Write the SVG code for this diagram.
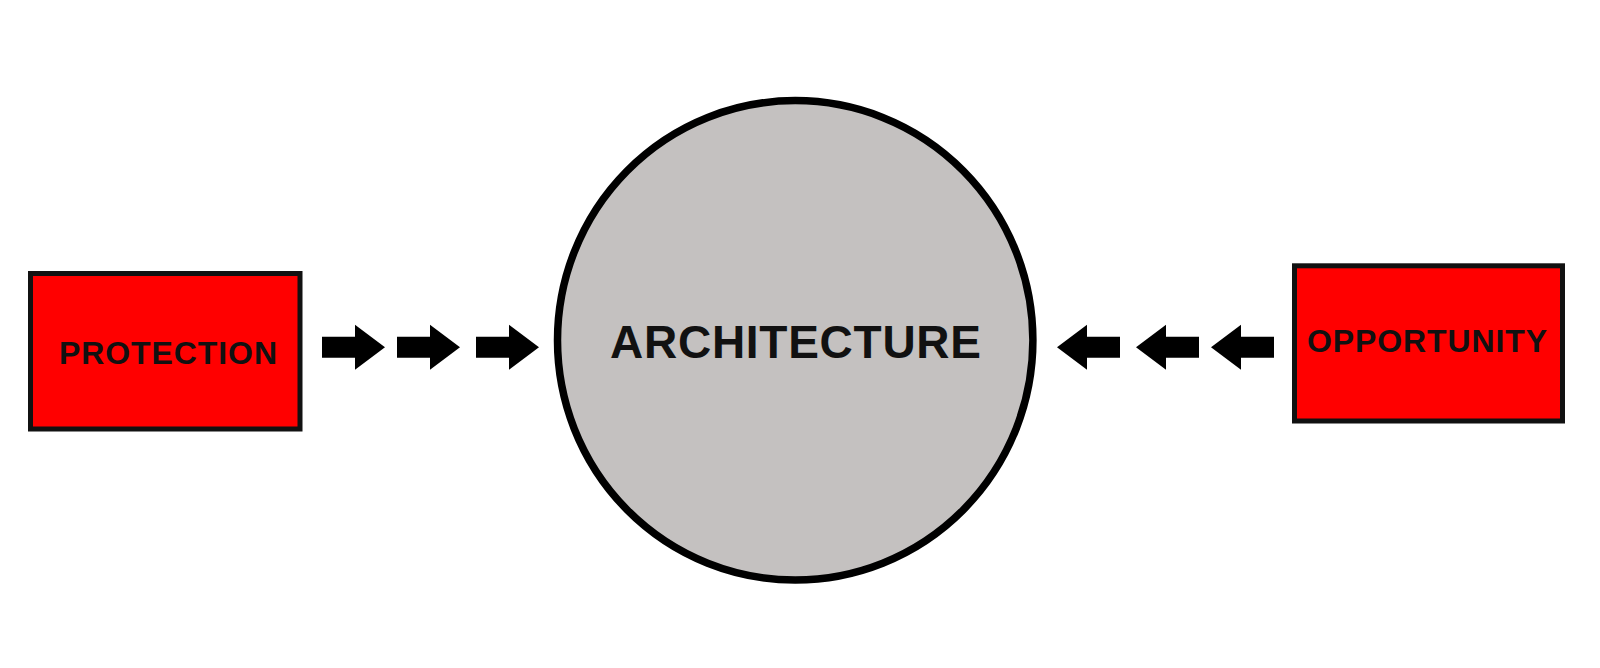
<svg xmlns="http://www.w3.org/2000/svg" width="1600" height="668" viewBox="0 0 1600 668">
<style>
.box{fill:#ff0000;stroke:#111;stroke-width:5}
.lbl{font-family:"Liberation Sans",Arial,sans-serif;font-weight:bold;fill:#111}
.arr{fill:#000}
</style>
<defs>
<path id="ar" d="M0,-10.5 H33 V-22.5 L63,0 L33,22.5 V10.5 H0 Z"/>
</defs>
<rect width="1600" height="668" fill="#fff"/>
<g id="protection">
<rect class="box" x="30.5" y="273.5" width="269.5" height="155.5"/>
<text class="lbl" x="59" y="364" font-size="32" textLength="218" lengthAdjust="spacing">PROTECTION</text>
</g>
<g id="architecture">
<ellipse cx="795.2" cy="340.3" rx="237.7" ry="239.7" fill="#c4c1c0" stroke="#000" stroke-width="7.5"/>
<text class="lbl" x="610" y="358" font-size="46" textLength="371" lengthAdjust="spacing">ARCHITECTURE</text>
</g>
<g id="opportunity">
<rect class="box" x="1294.5" y="265.8" width="268" height="155.2"/>
<text class="lbl" x="1307" y="352" font-size="32" textLength="240" lengthAdjust="spacing">OPPORTUNITY</text>
</g>
<g id="connectors" class="arr">
<use href="#ar" transform="translate(322,347.2)"/>
<use href="#ar" transform="translate(397,347.2)"/>
<use href="#ar" transform="translate(476,347.2)"/>
<use href="#ar" transform="translate(1120,347.2) scale(-1,1)"/>
<use href="#ar" transform="translate(1199,347.2) scale(-1,1)"/>
<use href="#ar" transform="translate(1274,347.2) scale(-1,1)"/>
</g>
</svg>
